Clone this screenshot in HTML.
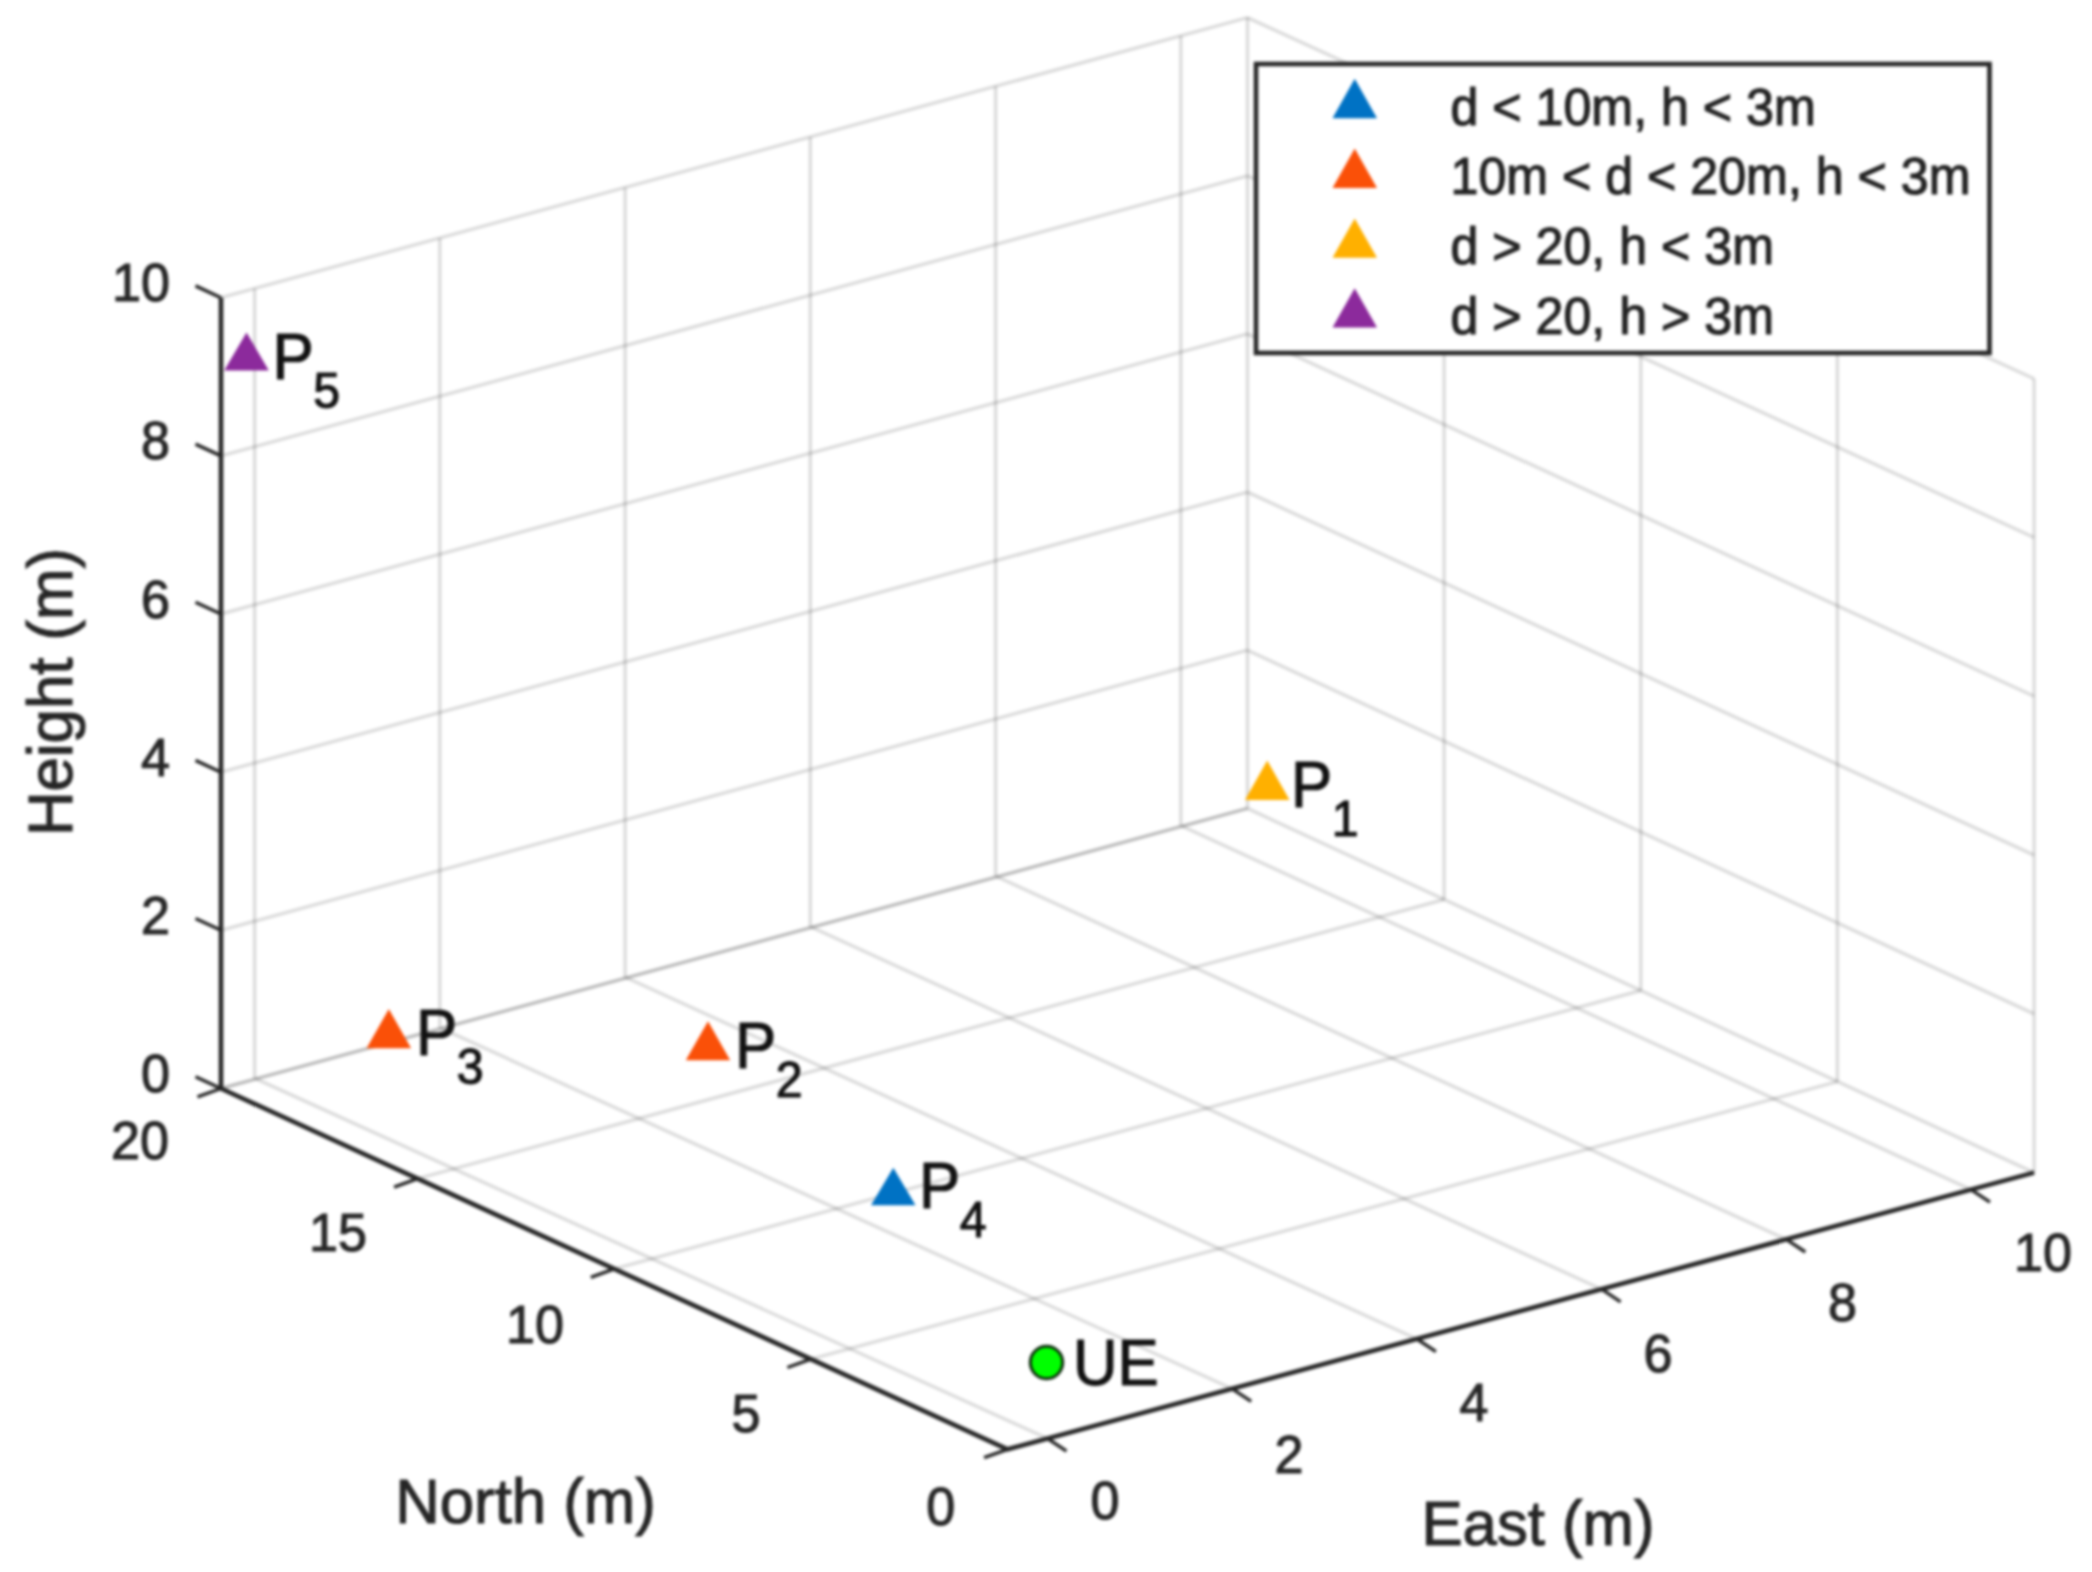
<!DOCTYPE html>
<html><head><meta charset="utf-8"><title>plot</title>
<style>html,body{margin:0;padding:0;background:#fff;overflow:hidden}svg{display:block;filter:blur(1.4px)}</style></head>
<body>
<svg width="2092" height="1572" viewBox="0 0 2092 1572">
<g>
<rect x="-10" y="-10" width="2112" height="1592" fill="#fff"/>
<g fill="none">
<line x1="1047.5" y1="1438.5" x2="256.1" y2="1078.9" stroke="#000" stroke-width="3.4" stroke-opacity="0.143"/>
<line x1="254.6" y1="1079.3" x2="254.6" y2="288.5" stroke="#000" stroke-width="3.4" stroke-opacity="0.143"/>
<line x1="1232.2" y1="1388.8" x2="441.3" y2="1028.4" stroke="#000" stroke-width="3.4" stroke-opacity="0.143"/>
<line x1="439.8" y1="1028.8" x2="439.8" y2="238.0" stroke="#000" stroke-width="3.4" stroke-opacity="0.143"/>
<line x1="1416.9" y1="1339.0" x2="626.6" y2="977.8" stroke="#000" stroke-width="3.4" stroke-opacity="0.143"/>
<line x1="625.1" y1="978.2" x2="625.1" y2="187.4" stroke="#000" stroke-width="3.4" stroke-opacity="0.143"/>
<line x1="1601.6" y1="1289.2" x2="811.8" y2="927.3" stroke="#000" stroke-width="3.4" stroke-opacity="0.143"/>
<line x1="810.3" y1="927.7" x2="810.3" y2="136.9" stroke="#000" stroke-width="3.4" stroke-opacity="0.143"/>
<line x1="1786.3" y1="1239.4" x2="997.1" y2="876.7" stroke="#000" stroke-width="3.4" stroke-opacity="0.143"/>
<line x1="995.6" y1="877.1" x2="995.6" y2="86.3" stroke="#000" stroke-width="3.4" stroke-opacity="0.143"/>
<line x1="1971.0" y1="1189.6" x2="1182.3" y2="826.2" stroke="#000" stroke-width="3.4" stroke-opacity="0.143"/>
<line x1="1180.8" y1="826.6" x2="1180.8" y2="35.8" stroke="#000" stroke-width="3.4" stroke-opacity="0.143"/>
<line x1="1007.6" y1="1449.3" x2="2034.1" y2="1172.6" stroke="#000" stroke-width="3.4" stroke-opacity="0.143"/>
<line x1="2034.1" y1="1172.6" x2="2034.1" y2="378.7" stroke="#000" stroke-width="3.4" stroke-opacity="0.143"/>
<line x1="810.9" y1="1359.1" x2="1837.4" y2="1081.6" stroke="#000" stroke-width="3.4" stroke-opacity="0.143"/>
<line x1="1837.4" y1="1081.6" x2="1837.4" y2="288.5" stroke="#000" stroke-width="3.4" stroke-opacity="0.143"/>
<line x1="614.3" y1="1268.9" x2="1640.8" y2="990.5" stroke="#000" stroke-width="3.4" stroke-opacity="0.143"/>
<line x1="1640.8" y1="990.5" x2="1640.8" y2="198.2" stroke="#000" stroke-width="3.4" stroke-opacity="0.143"/>
<line x1="417.6" y1="1178.7" x2="1444.1" y2="899.5" stroke="#000" stroke-width="3.4" stroke-opacity="0.143"/>
<line x1="1444.1" y1="899.5" x2="1444.1" y2="107.9" stroke="#000" stroke-width="3.4" stroke-opacity="0.143"/>
<line x1="221.0" y1="1088.5" x2="1247.5" y2="808.4" stroke="#000" stroke-width="3.4" stroke-opacity="0.143"/>
<line x1="1247.5" y1="808.4" x2="1247.5" y2="17.6" stroke="#000" stroke-width="3.4" stroke-opacity="0.143"/>
<line x1="221.0" y1="1088.5" x2="1247.5" y2="808.4" stroke="#000" stroke-width="3.4" stroke-opacity="0.143"/>
<line x1="1247.5" y1="808.4" x2="2034.1" y2="1172.6" stroke="#000" stroke-width="3.4" stroke-opacity="0.143"/>
<line x1="221.0" y1="930.3" x2="1247.5" y2="650.2" stroke="#000" stroke-width="3.4" stroke-opacity="0.143"/>
<line x1="1247.5" y1="650.2" x2="2034.1" y2="1013.9" stroke="#000" stroke-width="3.4" stroke-opacity="0.143"/>
<line x1="221.0" y1="772.2" x2="1247.5" y2="492.1" stroke="#000" stroke-width="3.4" stroke-opacity="0.143"/>
<line x1="1247.5" y1="492.1" x2="2034.1" y2="855.1" stroke="#000" stroke-width="3.4" stroke-opacity="0.143"/>
<line x1="221.0" y1="614.0" x2="1247.5" y2="333.9" stroke="#000" stroke-width="3.4" stroke-opacity="0.143"/>
<line x1="1247.5" y1="333.9" x2="2034.1" y2="696.3" stroke="#000" stroke-width="3.4" stroke-opacity="0.143"/>
<line x1="221.0" y1="455.9" x2="1247.5" y2="175.8" stroke="#000" stroke-width="3.4" stroke-opacity="0.143"/>
<line x1="1247.5" y1="175.8" x2="2034.1" y2="537.5" stroke="#000" stroke-width="3.4" stroke-opacity="0.143"/>
<line x1="221.0" y1="297.7" x2="1247.5" y2="17.6" stroke="#000" stroke-width="3.4" stroke-opacity="0.143"/>
<line x1="1247.5" y1="17.6" x2="2034.1" y2="378.7" stroke="#000" stroke-width="3.4" stroke-opacity="0.143"/>
<polyline points="221.0,297.7 221.0,1088.5 1007.6,1449.3 2034.1,1172.6" stroke="#262626" stroke-width="4.6" stroke-linejoin="round"/>
<line x1="221.0" y1="1088.5" x2="195.5" y2="1076.7" stroke="#262626" stroke-width="3.4"/>
<line x1="221.0" y1="930.3" x2="195.5" y2="918.5" stroke="#262626" stroke-width="3.4"/>
<line x1="221.0" y1="772.2" x2="195.5" y2="760.4" stroke="#262626" stroke-width="3.4"/>
<line x1="221.0" y1="614.0" x2="195.5" y2="602.2" stroke="#262626" stroke-width="3.4"/>
<line x1="221.0" y1="455.9" x2="195.5" y2="444.1" stroke="#262626" stroke-width="3.4"/>
<line x1="221.0" y1="297.7" x2="195.5" y2="285.9" stroke="#262626" stroke-width="3.4"/>
<line x1="1007.6" y1="1449.3" x2="984.1" y2="1457.7" stroke="#262626" stroke-width="3.4"/>
<line x1="810.9" y1="1359.1" x2="787.4" y2="1367.5" stroke="#262626" stroke-width="3.4"/>
<line x1="614.3" y1="1268.9" x2="590.8" y2="1277.3" stroke="#262626" stroke-width="3.4"/>
<line x1="417.6" y1="1178.7" x2="394.1" y2="1187.1" stroke="#262626" stroke-width="3.4"/>
<line x1="221.0" y1="1088.5" x2="197.5" y2="1096.9" stroke="#262626" stroke-width="3.4"/>
<line x1="1047.5" y1="1438.5" x2="1066.5" y2="1451.1" stroke="#262626" stroke-width="3.4"/>
<line x1="1232.2" y1="1388.8" x2="1251.2" y2="1401.4" stroke="#262626" stroke-width="3.4"/>
<line x1="1416.9" y1="1339.0" x2="1435.9" y2="1351.6" stroke="#262626" stroke-width="3.4"/>
<line x1="1601.6" y1="1289.2" x2="1620.6" y2="1301.8" stroke="#262626" stroke-width="3.4"/>
<line x1="1786.3" y1="1239.4" x2="1805.3" y2="1252.0" stroke="#262626" stroke-width="3.4"/>
<line x1="1971.0" y1="1189.6" x2="1990.0" y2="1202.2" stroke="#262626" stroke-width="3.4"/>
</g>
<polygon points="246.5,332.4 224.2,370.4 268.8,370.4" fill="#8c2a9c"/>
<polygon points="1267.2,760.6 1245.0,799.9 1289.5,799.9" fill="#ffb000"/>
<polygon points="388.8,1009.0 366.6,1048.3 411.1,1048.3" fill="#fa5008"/>
<polygon points="708.0,1021.3 685.8,1060.3 730.2,1060.3" fill="#fa5008"/>
<polygon points="893.3,1167.8 871.0,1205.3 915.5,1205.3" fill="#0072c4"/>
<circle cx="1046.5" cy="1362.5" r="16.2" fill="#00ff00" stroke="#0a2a0a" stroke-width="3"/>
<text transform="translate(1291.0,807.0) scale(0.965,1)" font-size="64" fill="#111" stroke="#111" stroke-width="1.15" font-family="Liberation Sans, Arial, sans-serif">P<tspan font-size="50" dx="-0.5" dy="29">1</tspan></text>
<text transform="translate(735.0,1067.5) scale(0.965,1)" font-size="64" fill="#111" stroke="#111" stroke-width="1.15" font-family="Liberation Sans, Arial, sans-serif">P<tspan font-size="50" dx="-0.5" dy="29">2</tspan></text>
<text transform="translate(416.0,1054.5) scale(0.965,1)" font-size="64" fill="#111" stroke="#111" stroke-width="1.15" font-family="Liberation Sans, Arial, sans-serif">P<tspan font-size="50" dx="-0.5" dy="29">3</tspan></text>
<text transform="translate(919.0,1208.0) scale(0.965,1)" font-size="64" fill="#111" stroke="#111" stroke-width="1.15" font-family="Liberation Sans, Arial, sans-serif">P<tspan font-size="50" dx="-0.5" dy="29">4</tspan></text>
<text transform="translate(272.5,378.5) scale(0.965,1)" font-size="64" fill="#111" stroke="#111" stroke-width="1.15" font-family="Liberation Sans, Arial, sans-serif">P<tspan font-size="50" dx="-0.5" dy="29">5</tspan></text>
<text transform="translate(1073.0,1384.5) scale(0.965,1)" font-size="64" text-anchor="start" fill="#111" stroke="#111" stroke-width="1.15" font-family="Liberation Sans, Arial, sans-serif">UE</text>
<text transform="translate(170.0,1091.8) scale(0.965,1)" font-size="54" text-anchor="end" fill="#262626" stroke="#262626" stroke-width="1.15" font-family="Liberation Sans, Arial, sans-serif">0</text>
<text transform="translate(170.0,933.7) scale(0.965,1)" font-size="54" text-anchor="end" fill="#262626" stroke="#262626" stroke-width="1.15" font-family="Liberation Sans, Arial, sans-serif">2</text>
<text transform="translate(170.0,775.6) scale(0.965,1)" font-size="54" text-anchor="end" fill="#262626" stroke="#262626" stroke-width="1.15" font-family="Liberation Sans, Arial, sans-serif">4</text>
<text transform="translate(170.0,617.5) scale(0.965,1)" font-size="54" text-anchor="end" fill="#262626" stroke="#262626" stroke-width="1.15" font-family="Liberation Sans, Arial, sans-serif">6</text>
<text transform="translate(170.0,459.4) scale(0.965,1)" font-size="54" text-anchor="end" fill="#262626" stroke="#262626" stroke-width="1.15" font-family="Liberation Sans, Arial, sans-serif">8</text>
<text transform="translate(170.0,301.3) scale(0.965,1)" font-size="54" text-anchor="end" fill="#262626" stroke="#262626" stroke-width="1.15" font-family="Liberation Sans, Arial, sans-serif">10</text>
<text transform="translate(140.0,1159.3) scale(0.965,1)" font-size="54" text-anchor="middle" fill="#262626" stroke="#262626" stroke-width="1.15" font-family="Liberation Sans, Arial, sans-serif">20</text>
<text transform="translate(338.0,1250.8) scale(0.965,1)" font-size="54" text-anchor="middle" fill="#262626" stroke="#262626" stroke-width="1.15" font-family="Liberation Sans, Arial, sans-serif">15</text>
<text transform="translate(535.0,1343.3) scale(0.965,1)" font-size="54" text-anchor="middle" fill="#262626" stroke="#262626" stroke-width="1.15" font-family="Liberation Sans, Arial, sans-serif">10</text>
<text transform="translate(746.0,1432.3) scale(0.965,1)" font-size="54" text-anchor="middle" fill="#262626" stroke="#262626" stroke-width="1.15" font-family="Liberation Sans, Arial, sans-serif">5</text>
<text transform="translate(940.7,1524.8) scale(0.965,1)" font-size="54" text-anchor="middle" fill="#262626" stroke="#262626" stroke-width="1.15" font-family="Liberation Sans, Arial, sans-serif">0</text>
<text transform="translate(1105.0,1518.8) scale(0.965,1)" font-size="54" text-anchor="middle" fill="#262626" stroke="#262626" stroke-width="1.15" font-family="Liberation Sans, Arial, sans-serif">0</text>
<text transform="translate(1289.0,1472.8) scale(0.965,1)" font-size="54" text-anchor="middle" fill="#262626" stroke="#262626" stroke-width="1.15" font-family="Liberation Sans, Arial, sans-serif">2</text>
<text transform="translate(1474.0,1421.3) scale(0.965,1)" font-size="54" text-anchor="middle" fill="#262626" stroke="#262626" stroke-width="1.15" font-family="Liberation Sans, Arial, sans-serif">4</text>
<text transform="translate(1658.0,1371.8) scale(0.965,1)" font-size="54" text-anchor="middle" fill="#262626" stroke="#262626" stroke-width="1.15" font-family="Liberation Sans, Arial, sans-serif">6</text>
<text transform="translate(1842.5,1321.3) scale(0.965,1)" font-size="54" text-anchor="middle" fill="#262626" stroke="#262626" stroke-width="1.15" font-family="Liberation Sans, Arial, sans-serif">8</text>
<text transform="translate(2043.0,1270.8) scale(0.965,1)" font-size="54" text-anchor="middle" fill="#262626" stroke="#262626" stroke-width="1.15" font-family="Liberation Sans, Arial, sans-serif">10</text>
<text transform="translate(525.5,1523.0) scale(0.98,1)" font-size="63" text-anchor="middle" fill="#262626" stroke="#262626" stroke-width="1.15" font-family="Liberation Sans, Arial, sans-serif">North (m)</text>
<text transform="translate(1538.0,1545.0) scale(0.98,1)" font-size="63" text-anchor="middle" fill="#262626" stroke="#262626" stroke-width="1.15" font-family="Liberation Sans, Arial, sans-serif">East (m)</text>
<text transform="translate(72,692) rotate(-90) scale(0.98,1)" font-size="63" text-anchor="middle" fill="#262626" stroke="#262626" stroke-width="1.15" font-family="Liberation Sans, Arial, sans-serif">Height (m)</text>
<rect x="1256" y="64" width="733.5" height="289" fill="#fff" stroke="#262626" stroke-width="4.6"/>
<polygon points="1354.7,78.8 1332.5,118.2 1377.0,118.2" fill="#0072c4"/>
<text transform="translate(1450.5,124.5) scale(0.965,1)" font-size="52" text-anchor="start" fill="#222" stroke="#222" stroke-width="1.15" font-family="Liberation Sans, Arial, sans-serif">d &lt; 10m, h &lt; 3m</text>
<polygon points="1354.7,148.6 1332.5,188.0 1377.0,188.0" fill="#fa5008"/>
<text transform="translate(1450.5,194.3) scale(0.965,1)" font-size="52" text-anchor="start" fill="#222" stroke="#222" stroke-width="1.15" font-family="Liberation Sans, Arial, sans-serif">10m &lt; d &lt; 20m, h &lt; 3m</text>
<polygon points="1354.7,218.4 1332.5,257.8 1377.0,257.8" fill="#ffb000"/>
<text transform="translate(1450.5,264.1) scale(0.965,1)" font-size="52" text-anchor="start" fill="#222" stroke="#222" stroke-width="1.15" font-family="Liberation Sans, Arial, sans-serif">d &gt; 20, h &lt; 3m</text>
<polygon points="1354.7,288.2 1332.5,327.6 1377.0,327.6" fill="#8c2a9c"/>
<text transform="translate(1450.5,333.9) scale(0.965,1)" font-size="52" text-anchor="start" fill="#222" stroke="#222" stroke-width="1.15" font-family="Liberation Sans, Arial, sans-serif">d &gt; 20, h &gt; 3m</text>
</g>
</svg>
</body></html>
